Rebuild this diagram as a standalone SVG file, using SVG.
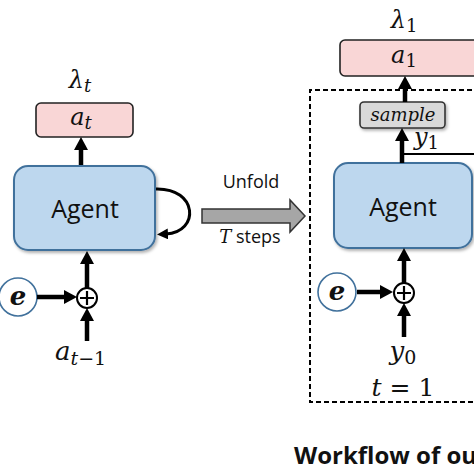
<svg xmlns="http://www.w3.org/2000/svg" width="474" height="474" viewBox="0 0 474 474">
<style>
.math{font-family:"DejaVu Serif","Liberation Serif",serif;font-style:italic;fill:#111;}
.up{font-style:normal;}
.sans{font-family:"Open Sans","Liberation Sans",sans-serif;fill:#111;}
.agent{fill:#bdd7ee;stroke:#41719c;stroke-width:2;}
.out{fill:#f9d6d6;stroke:#222;stroke-width:1.6;}
.smp{fill:#d9d9d9;stroke:#333;stroke-width:1.6;}
.ecirc{fill:#fff;stroke:#41719c;stroke-width:1.6;}
.plus{fill:#fff;stroke:#000;stroke-width:2;}
.arr{stroke:#000;stroke-width:4.5;fill:none;marker-end:url(#ah);}
.ebold{font-family:"DejaVu Serif","Liberation Serif",serif;font-style:italic;font-weight:bold;fill:#111;}
</style>
<defs>
<marker id="ah" markerUnits="userSpaceOnUse" markerWidth="13" markerHeight="14" viewBox="0 0 13 14" refX="2" refY="7" orient="auto">
<path d="M0,0 L13,7 L0,14 z" fill="#000"/>
</marker>
<marker id="ah2" markerUnits="userSpaceOnUse" markerWidth="11" markerHeight="11" viewBox="0 0 11 11" refX="2" refY="5.5" orient="auto">
<path d="M0,0 L11,5.5 L0,11 z" fill="#000"/>
</marker>
<filter id="sh" x="-10%" y="-10%" width="130%" height="130%">
<feDropShadow dx="1.5" dy="2" stdDeviation="1.5" flood-color="#000" flood-opacity="0.3"/>
</filter>
</defs>
<rect width="474" height="474" fill="#fff"/>

<!-- left: folded -->
<g id="lambda-t"><text class="math" x="80" y="88" font-size="24" text-anchor="middle">λ<tspan font-size="18" dy="4">t</tspan></text></g>
<g id="out-at">
<rect class="out" x="36" y="103" width="97" height="34" rx="5"/>
<text class="math" x="81" y="125" font-size="24" text-anchor="middle">a<tspan font-size="18" dy="4">t</tspan></text>
</g>
<g id="agent-left">
<rect class="agent" x="14" y="166" width="141" height="84" rx="14" filter="url(#sh)"/>
<text class="sans" x="85" y="218" font-size="25" text-anchor="middle">Agent</text>
</g>
<g id="e-left">
<circle class="ecirc" cx="18" cy="297" r="19"/>
<text class="ebold" x="18" y="305" font-size="26" text-anchor="middle">e</text>
</g>
<g id="plus-left">
<circle class="plus" cx="87" cy="298" r="10"/>
<path d="M87,291 V305 M80,298 H94" stroke="#000" stroke-width="2.2"/>
</g>
<g id="label-at1"><text class="math" x="55" y="360" font-size="26">a<tspan font-size="19" dy="5">t<tspan class="up">−1</tspan></tspan></text></g>

<!-- unfold -->
<g id="unfold">
<polygon points="202,209 290,209 290,200 305,216 290,232 290,223 202,223" fill="#a6a6a6" stroke="#333" stroke-width="1.5"/>
<text class="sans" x="251" y="188" font-size="18" text-anchor="middle">Unfold</text>
<text x="250" y="243" font-size="18" text-anchor="middle"><tspan class="math">T</tspan><tspan class="sans"> steps</tspan></text>
</g>

<!-- right: unfolded -->
<g id="frame"><path d="M480,90 H310 V402 H480" fill="none" stroke="#000" stroke-width="2" stroke-dasharray="5,3"/></g>
<g id="lambda-1"><text class="math" x="404" y="28" font-size="24" text-anchor="middle">λ<tspan class="up" font-size="18" dy="4">1</tspan></text></g>
<g id="out-a1">
<rect class="out" x="340" y="40" width="150" height="36" rx="5"/>
<text class="math" x="404" y="63" font-size="24" text-anchor="middle">a<tspan class="up" font-size="18" dy="4">1</tspan></text>
</g>
<g id="sample">
<rect class="smp" x="360" y="102" width="85" height="26" rx="4" filter="url(#sh)"/>
<text class="math" x="403" y="121" font-size="18" text-anchor="middle">sample</text>
</g>
<g id="label-y1"><text class="math" x="414" y="145" font-size="24">y<tspan class="up" font-size="18" dy="4">1</tspan></text></g>
<g id="agent-right">
<rect class="agent" x="334" y="163" width="138" height="85" rx="14" filter="url(#sh)"/>
<text class="sans" x="403" y="216" font-size="25" text-anchor="middle">Agent</text>
</g>
<g id="e-right">
<circle class="ecirc" cx="337" cy="292" r="19"/>
<text class="ebold" x="337" y="300" font-size="26" text-anchor="middle">e</text>
</g>
<g id="plus-right">
<circle class="plus" cx="404" cy="293" r="10"/>
<path d="M404,286 V300 M397,293 H411" stroke="#000" stroke-width="2.2"/>
</g>
<g id="label-y0"><text class="math" x="403" y="360" font-size="26" text-anchor="middle">y<tspan class="up" font-size="19" dy="4">0</tspan></text></g>
<g id="label-t1"><text class="math" x="403" y="396" font-size="25" text-anchor="middle">t <tspan class="up">= 1</tspan></text></g>

<g id="caption"><text class="sans" x="294" y="464" font-size="24" font-weight="bold">Workflow of our</text></g>

<g id="connectors">
<line class="arr" x1="81" y1="165" x2="81" y2="148"/>
<line class="arr" x1="87" y1="288" x2="87" y2="262"/>
<line class="arr" x1="37" y1="297" x2="66" y2="297"/>
<line class="arr" x1="87" y1="341" x2="87" y2="319"/>
<path d="M156,189 C198,188 200,232 166,234" fill="none" stroke="#000" stroke-width="3" marker-end="url(#ah2)"/>
<line class="arr" x1="402" y1="163" x2="402" y2="139"/>
<line class="arr" x1="405" y1="102" x2="405" y2="87"/>
<line class="arr" x1="404" y1="283" x2="404" y2="259"/>
<line class="arr" x1="357" y1="292" x2="382" y2="292"/>
<line class="arr" x1="404" y1="337" x2="404" y2="314"/>
<path d="M402,154 H480" fill="none" stroke="#000" stroke-width="2"/>
</g>
</svg>
